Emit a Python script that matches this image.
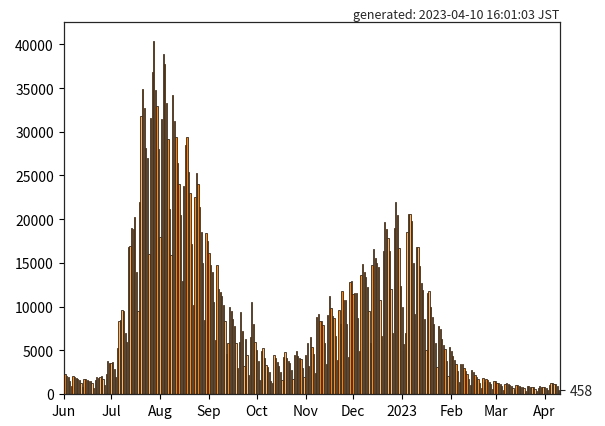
import numpy as np, pandas as pd, matplotlib
matplotlib.use("Agg")
import matplotlib.pyplot as plt, matplotlib.dates as mdates, seaborn as sns

weeks = [
[2500,2300,2100,1900,1500,900,2000],
[1900,1800,1700,1600,1300,800,1700],
[1700,1600,1500,1500,1200,700,1600],
[1900,1800,1900,2100,1700,1000,2300],
[3800,3500,3600,3700,2900,1900,5300],
[8300,8500,9600,9500,7000,6000,16800],
[16900,19000,18900,20300,14000,9500,22000],
[31800,34900,32700,28100,27000,16000,31600],
[36800,40400,34800,33000,28000,18000,31500],
[38900,37700,33300,29200,21200,15900,34200],
[31200,29400,26400,24000,20500,12900,23800],
[28500,29400,25400,23000,17200,10200,22500],
[25300,24000,21400,18500,15000,8500,18400],
[17500,16100,14700,14000,10500,6200,14800],
[12000,11700,11200,10200,8300,4600,5800],
[10000,9500,8600,7800,5800,3000,6000],
[9400,7200,3200,6300,4500,2200,6500],
[10500,8000,6000,5000,3800,1600,4900],
[5300,4100,3300,3100,2500,1500,1200],
[4500,4100,3700,3200,2500,1600,4200],
[4800,4100,3800,3600,2800,1700,4500],
[4900,4400,4100,4000,3000,1900,4500],
[5800,3200,6500,5400,4600,2400,8800],
[9100,8400,8400,7900,5800,3400,9000],
[11200,9800,8900,8700,6600,3900,9600],
[8000,11800,10800,10700,8000,4200,12800],
[12900,11400,11500,11500,8700,4900,13600],
[14900,14000,13400,12200,9500,5800,14700],
[16600,15600,15000,14500,10800,6600,16400],
[19700,18900,17800,16300,12000,7000,19000],
[22000,20500,16700,12300,10000,5700,7000],
[18500,20600,20600,19800,15000,9100,16800],
[16800,14600,12700,11900,8600,5000,11500],
[11800,10000,8800,8000,5800,3100,7800],
[7400,6300,5600,5100,3800,2100,5400],
[4900,4300,3900,3400,2600,1400,3400],
[3400,3000,2600,2300,1700,1000,2800],
[2500,2200,1900,1700,1300,700,1800],
[1400,1700,1600,1400,1100,600,1500],
[1500,1300,1200,1100,900,500,1100],
[1200,1100,1000,900,700,400,1000],
[1000,950,850,800,650,380,900],
[900,800,800,750,600,350,700],
[900,850,800,800,650,400,1000],
[1300,1200,1100,1100,900,458],
]
values = [v for w in weeks for v in w]
dates = pd.date_range("2022-06-01", periods=len(values), freq="D")
df = pd.DataFrame({"date": dates, "cases": values})

sns.set_style("ticks")
plt.rcParams['font.family'] = ['Noto Sans CJK JP', 'DejaVu Sans']
fig, ax = plt.subplots(figsize=(6.05, 4.27), dpi=100)
fig.subplots_adjust(left=0.105, right=0.925, top=0.945, bottom=0.075)
palette = ["#ffb366", "#ff8c1a", "#ffb366", "#ff7f00", "#ffb366", "#ff8c1a", "#ffc080"]
cols = [palette[d.dayofweek] for d in df["date"]]
ax.bar(df["date"], df["cases"], width=0.8, color=cols, edgecolor="#3a2a1a", linewidth=0.6)
ax.set_xlim(pd.Timestamp("2022-06-01"), pd.Timestamp("2023-04-10 12:00"))
ax.set_ylim(0, 42500)
ax.xaxis.set_major_locator(mdates.MonthLocator())
ax.xaxis.set_major_formatter(mdates.ConciseDateFormatter(ax.xaxis.get_major_locator(), formats=['%Y','%b','%d','%H:%M','%H:%M','%S.%f']))
ax.tick_params(labelsize=10, direction="out", colors="black")
for s in ax.spines.values():
    s.set_color("black"); s.set_linewidth(0.8)
ax2 = ax.twinx()
ax2.set_ylim(ax.get_ylim())
ax2.set_yticks([values[-1]])
ax2.set_yticklabels([str(values[-1])], fontsize=10)
ax.set_title("generated: 2023-04-10 16:01:03 JST", loc="right", fontsize=9, pad=3)
fig.savefig("out.png", dpi=100)
